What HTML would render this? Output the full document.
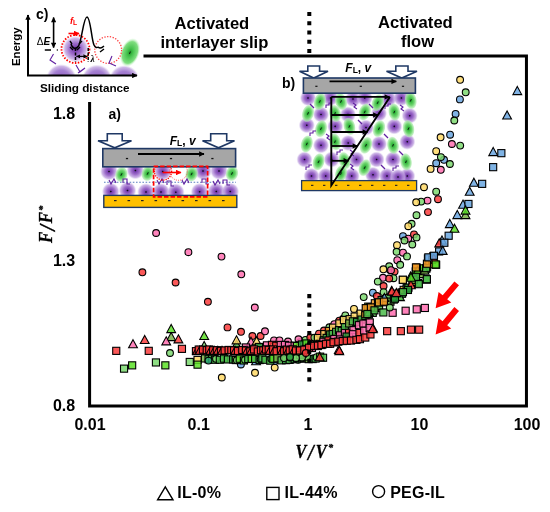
<!DOCTYPE html>
<html><head><meta charset="utf-8"><title>Figure</title>
<style>html,body{margin:0;padding:0;background:#fff}svg{display:block}svg{font-family:"Liberation Sans",sans-serif}.se{font-family:"Liberation Serif",serif}</style></head>
<body><svg width="550" height="512" viewBox="0 0 550 512">
<defs>
<radialGradient id="pu"><stop offset="0" stop-color="#4a1c84"/><stop offset="0.14" stop-color="#7a40b0"/><stop offset="0.45" stop-color="#9a68c8" stop-opacity="0.96"/><stop offset="0.78" stop-color="#bc9cde" stop-opacity="0.75"/><stop offset="1" stop-color="#dccdf0" stop-opacity="0"/></radialGradient>
<radialGradient id="pb"><stop offset="0" stop-color="#8a56bc"/><stop offset="0.6" stop-color="#a27cd0" stop-opacity="0.97"/><stop offset="0.85" stop-color="#c0a4e0" stop-opacity="0.8"/><stop offset="1" stop-color="#d8c8ec" stop-opacity="0"/></radialGradient>
<radialGradient id="gr"><stop offset="0" stop-color="#109a20"/><stop offset="0.22" stop-color="#3cbc44"/><stop offset="0.55" stop-color="#6cd46c" stop-opacity="0.95"/><stop offset="0.85" stop-color="#a8eaa8" stop-opacity="0.7"/><stop offset="1" stop-color="#d0f8d0" stop-opacity="0"/></radialGradient>
<radialGradient id="gr2"><stop offset="0" stop-color="#1c9c26"/><stop offset="0.3" stop-color="#46c24e"/><stop offset="0.75" stop-color="#78dc78" stop-opacity="0.95"/><stop offset="1" stop-color="#d0f8d0" stop-opacity="0"/></radialGradient>
<marker id="ah" viewBox="0 0 10 10" refX="9" refY="5" markerWidth="6" markerHeight="5.4" markerUnits="userSpaceOnUse" orient="auto-start-reverse"><path d="M0 0L10 5L0 10Z"/></marker>
<marker id="ahr" viewBox="0 0 10 10" refX="9" refY="5" markerWidth="6" markerHeight="5.6" markerUnits="userSpaceOnUse" orient="auto"><path d="M0 0L10 5L0 10Z" fill="#f00"/></marker>
<marker id="ah2" viewBox="0 0 10 10" refX="9" refY="5" markerWidth="4.4" markerHeight="4.4" markerUnits="userSpaceOnUse" orient="auto-start-reverse"><path d="M0 0L10 5L0 10Z"/></marker>
</defs>
<rect width="550" height="512" fill="#fff"/>
<g id="insetb"><path d="M307.8 66H319.6V71.2H328L313.75 78L299.5 71.2H307.8Z" fill="#fff" stroke="#1f3864" stroke-width="1.6" stroke-linejoin="miter"/><path d="M395.8 66H408V71.2H417L401.75 78L386.5 71.2H395.8Z" fill="#fff" stroke="#1f3864" stroke-width="1.6" stroke-linejoin="miter"/><circle cx="308" cy="98" r="8.2" fill="url(#pu)"/><circle cx="308" cy="98" r="0.8" fill="#111"/><circle cx="330.5" cy="98" r="8.2" fill="url(#pu)"/><circle cx="330.5" cy="98" r="0.8" fill="#111"/><circle cx="353" cy="99" r="8.2" fill="url(#pu)"/><circle cx="353" cy="99" r="0.8" fill="#111"/><circle cx="364.7" cy="98" r="8.2" fill="url(#pu)"/><circle cx="364.7" cy="98" r="0.8" fill="#111"/><circle cx="388.4" cy="99" r="8.2" fill="url(#pu)"/><circle cx="388.4" cy="99" r="0.8" fill="#111"/><circle cx="401.4" cy="98" r="8.2" fill="url(#pu)"/><circle cx="401.4" cy="98" r="0.8" fill="#111"/><circle cx="321" cy="114.5" r="8.2" fill="url(#pu)"/><circle cx="321" cy="114.5" r="0.8" fill="#111"/><circle cx="348" cy="114.5" r="8.2" fill="url(#pu)"/><circle cx="348" cy="114.5" r="0.8" fill="#111"/><circle cx="379" cy="113.4" r="8.2" fill="url(#pu)"/><circle cx="379" cy="113.4" r="0.8" fill="#111"/><circle cx="409.7" cy="115.7" r="8.2" fill="url(#pu)"/><circle cx="409.7" cy="115.7" r="0.8" fill="#111"/><circle cx="306.8" cy="125.2" r="8.2" fill="url(#pu)"/><circle cx="306.8" cy="125.2" r="0.8" fill="#111"/><circle cx="335.2" cy="126.4" r="8.2" fill="url(#pu)"/><circle cx="335.2" cy="126.4" r="0.8" fill="#111"/><circle cx="366" cy="127.6" r="8.2" fill="url(#pu)"/><circle cx="366" cy="127.6" r="0.8" fill="#111"/><circle cx="394.3" cy="126.4" r="8.2" fill="url(#pu)"/><circle cx="394.3" cy="126.4" r="0.8" fill="#111"/><circle cx="321" cy="145.3" r="8.2" fill="url(#pu)"/><circle cx="321" cy="145.3" r="0.8" fill="#111"/><circle cx="348.2" cy="143" r="8.2" fill="url(#pu)"/><circle cx="348.2" cy="143" r="0.8" fill="#111"/><circle cx="379" cy="144" r="8.2" fill="url(#pu)"/><circle cx="379" cy="144" r="0.8" fill="#111"/><circle cx="407.3" cy="141.7" r="8.2" fill="url(#pu)"/><circle cx="407.3" cy="141.7" r="0.8" fill="#111"/><circle cx="304.5" cy="159.5" r="8.2" fill="url(#pu)"/><circle cx="304.5" cy="159.5" r="0.8" fill="#111"/><circle cx="331.6" cy="159.5" r="8.2" fill="url(#pu)"/><circle cx="331.6" cy="159.5" r="0.8" fill="#111"/><circle cx="356.5" cy="159.5" r="8.2" fill="url(#pu)"/><circle cx="356.5" cy="159.5" r="0.8" fill="#111"/><circle cx="376.6" cy="159.5" r="8.2" fill="url(#pu)"/><circle cx="376.6" cy="159.5" r="0.8" fill="#111"/><circle cx="393" cy="159.5" r="8.2" fill="url(#pu)"/><circle cx="393" cy="159.5" r="0.8" fill="#111"/><circle cx="311.5" cy="176" r="8.2" fill="url(#pu)"/><circle cx="311.5" cy="176" r="0.8" fill="#111"/><circle cx="325.7" cy="176" r="8.2" fill="url(#pu)"/><circle cx="325.7" cy="176" r="0.8" fill="#111"/><circle cx="351.7" cy="176" r="8.2" fill="url(#pu)"/><circle cx="351.7" cy="176" r="0.8" fill="#111"/><circle cx="373" cy="174.8" r="8.2" fill="url(#pu)"/><circle cx="373" cy="174.8" r="0.8" fill="#111"/><circle cx="387" cy="176" r="8.2" fill="url(#pu)"/><circle cx="387" cy="176" r="0.8" fill="#111"/><circle cx="407.3" cy="176" r="8.2" fill="url(#pu)"/><circle cx="407.3" cy="176" r="0.8" fill="#111"/><circle cx="398" cy="177" r="8.2" fill="url(#pu)"/><circle cx="398" cy="177" r="0.8" fill="#111"/><ellipse cx="319.8" cy="101.5" rx="6.2" ry="9.2" fill="url(#gr)" transform="rotate(15 319.8 101.5)"/><path d="M319.2 102.7L320.40000000000003 100.3" stroke="#111" stroke-width="0.9"/><ellipse cx="341" cy="101.5" rx="6.2" ry="9.2" fill="url(#gr)" transform="rotate(-15 341 101.5)"/><path d="M340.4 102.7L341.6 100.3" stroke="#111" stroke-width="0.9"/><ellipse cx="377.7" cy="102.7" rx="6.2" ry="9.2" fill="url(#gr)" transform="rotate(20 377.7 102.7)"/><path d="M377.09999999999997 103.9L378.3 101.5" stroke="#111" stroke-width="0.9"/><ellipse cx="410.8" cy="100.4" rx="6.2" ry="9.2" fill="url(#gr)" transform="rotate(-10 410.8 100.4)"/><path d="M410.2 101.60000000000001L411.40000000000003 99.2" stroke="#111" stroke-width="0.9"/><ellipse cx="308" cy="113.4" rx="6.2" ry="9.2" fill="url(#gr)" transform="rotate(15 308 113.4)"/><path d="M307.4 114.60000000000001L308.6 112.2" stroke="#111" stroke-width="0.9"/><ellipse cx="335" cy="113.4" rx="6.2" ry="9.2" fill="url(#gr)" transform="rotate(-15 335 113.4)"/><path d="M334.4 114.60000000000001L335.6 112.2" stroke="#111" stroke-width="0.9"/><ellipse cx="364.7" cy="112" rx="6.2" ry="9.2" fill="url(#gr)" transform="rotate(20 364.7 112)"/><path d="M364.09999999999997 113.2L365.3 110.8" stroke="#111" stroke-width="0.9"/><ellipse cx="394.3" cy="112" rx="6.2" ry="9.2" fill="url(#gr)" transform="rotate(-10 394.3 112)"/><path d="M393.7 113.2L394.90000000000003 110.8" stroke="#111" stroke-width="0.9"/><ellipse cx="321" cy="128.7" rx="6.2" ry="9.2" fill="url(#gr)" transform="rotate(15 321 128.7)"/><path d="M320.4 129.89999999999998L321.6 127.49999999999999" stroke="#111" stroke-width="0.9"/><ellipse cx="349.4" cy="126.4" rx="6.2" ry="9.2" fill="url(#gr)" transform="rotate(-15 349.4 126.4)"/><path d="M348.79999999999995 127.60000000000001L350.0 125.2" stroke="#111" stroke-width="0.9"/><ellipse cx="379" cy="128.7" rx="6.2" ry="9.2" fill="url(#gr)" transform="rotate(20 379 128.7)"/><path d="M378.4 129.89999999999998L379.6 127.49999999999999" stroke="#111" stroke-width="0.9"/><ellipse cx="408.5" cy="128.7" rx="6.2" ry="9.2" fill="url(#gr)" transform="rotate(-10 408.5 128.7)"/><path d="M407.9 129.89999999999998L409.1 127.49999999999999" stroke="#111" stroke-width="0.9"/><ellipse cx="306.8" cy="144" rx="6.2" ry="9.2" fill="url(#gr)" transform="rotate(15 306.8 144)"/><path d="M306.2 145.2L307.40000000000003 142.8" stroke="#111" stroke-width="0.9"/><ellipse cx="335" cy="141.7" rx="6.2" ry="9.2" fill="url(#gr)" transform="rotate(-15 335 141.7)"/><path d="M334.4 142.89999999999998L335.6 140.5" stroke="#111" stroke-width="0.9"/><ellipse cx="366" cy="145.3" rx="6.2" ry="9.2" fill="url(#gr)" transform="rotate(20 366 145.3)"/><path d="M365.4 146.5L366.6 144.10000000000002" stroke="#111" stroke-width="0.9"/><ellipse cx="393" cy="145.3" rx="6.2" ry="9.2" fill="url(#gr)" transform="rotate(-10 393 145.3)"/><path d="M392.4 146.5L393.6 144.10000000000002" stroke="#111" stroke-width="0.9"/><ellipse cx="318.6" cy="161.8" rx="6.2" ry="9.2" fill="url(#gr)" transform="rotate(15 318.6 161.8)"/><path d="M318.0 163.0L319.20000000000005 160.60000000000002" stroke="#111" stroke-width="0.9"/><ellipse cx="344.6" cy="160.6" rx="6.2" ry="9.2" fill="url(#gr)" transform="rotate(-15 344.6 160.6)"/><path d="M344.0 161.79999999999998L345.20000000000005 159.4" stroke="#111" stroke-width="0.9"/><ellipse cx="364.7" cy="167.7" rx="6.2" ry="9.2" fill="url(#gr)" transform="rotate(20 364.7 167.7)"/><path d="M364.09999999999997 168.89999999999998L365.3 166.5" stroke="#111" stroke-width="0.9"/><ellipse cx="406" cy="161.8" rx="6.2" ry="9.2" fill="url(#gr)" transform="rotate(-10 406 161.8)"/><path d="M405.4 163.0L406.6 160.60000000000002" stroke="#111" stroke-width="0.9"/><ellipse cx="341" cy="173.6" rx="6.2" ry="9.2" fill="url(#gr)" transform="rotate(15 341 173.6)"/><path d="M340.4 174.79999999999998L341.6 172.4" stroke="#111" stroke-width="0.9"/><path d="M310 104L314 108" stroke="#6020a0" stroke-width="1.2"/><path d="M326 108V105H329V103H332" fill="none" stroke="#6020a0" stroke-width="1.1"/><path d="M353 103L356 105L354 107L357 109" fill="none" stroke="#6020a0" stroke-width="1.1"/><path d="M369 104L373 108" stroke="#6020a0" stroke-width="1.2"/><path d="M385 109V106H388V104H391" fill="none" stroke="#6020a0" stroke-width="1.1"/><path d="M400 105L403 107L401 109L404 111" fill="none" stroke="#6020a0" stroke-width="1.1"/><path d="M358 120L362 124" stroke="#6020a0" stroke-width="1.2"/><path d="M310 136V133H313V131H316" fill="none" stroke="#6020a0" stroke-width="1.1"/><path d="M326 134L329 136L327 138L330 140" fill="none" stroke="#6020a0" stroke-width="1.1"/><path d="M384 134L388 138" stroke="#6020a0" stroke-width="1.2"/><path d="M337 155V152H340V150H343" fill="none" stroke="#6020a0" stroke-width="1.1"/><path d="M350 150L353 152L351 154L354 156" fill="none" stroke="#6020a0" stroke-width="1.1"/><path d="M399 151L403 155" stroke="#6020a0" stroke-width="1.2"/><path d="M306 170V167H309V165H312" fill="none" stroke="#6020a0" stroke-width="1.1"/><path d="M350 164L353 166L351 168L354 170" fill="none" stroke="#6020a0" stroke-width="1.1"/><path d="M381 165L385 169" stroke="#6020a0" stroke-width="1.2"/><path d="M393 171V168H396V166H399" fill="none" stroke="#6020a0" stroke-width="1.1"/><rect x="303.4" y="78" width="112" height="15.2" fill="#a6a6a6" stroke="#1f3864" stroke-width="1.6"/><rect x="315.29999999999995" y="85.7" width="2.2" height="1.2" fill="#111"/><rect x="359.7" y="85.7" width="2.2" height="1.2" fill="#111"/><rect x="401.9" y="85.7" width="2.2" height="1.2" fill="#111"/><path d="M329.5 81.4H396.3" stroke="#000" stroke-width="1.8" marker-end="url(#ah)"/><rect x="301.6" y="180.6" width="115" height="10" fill="#ffc000" stroke="#1f3864" stroke-width="1.3"/><rect x="311" y="184.8" width="2.4" height="1.1" fill="#222"/><rect x="323" y="184.8" width="2.4" height="1.1" fill="#222"/><rect x="335" y="184.8" width="2.4" height="1.1" fill="#222"/><rect x="347" y="184.8" width="2.4" height="1.1" fill="#222"/><rect x="359" y="184.8" width="2.4" height="1.1" fill="#222"/><rect x="371" y="184.8" width="2.4" height="1.1" fill="#222"/><rect x="383" y="184.8" width="2.4" height="1.1" fill="#222"/><rect x="395" y="184.8" width="2.4" height="1.1" fill="#222"/><rect x="407" y="184.8" width="2.4" height="1.1" fill="#222"/><path d="M331.3 96.9V185.4L389.9 96.9" fill="none" stroke="#000" stroke-width="1.9" stroke-linejoin="miter"/><path d="M331.3 96.9H389.5" stroke="#000" stroke-width="1.8" marker-end="url(#ah)"/><path d="M331.3 115H378" stroke="#000" stroke-width="1.8" marker-end="url(#ah)"/><path d="M331.3 132H367.5" stroke="#000" stroke-width="1.8" marker-end="url(#ah)"/><path d="M331.3 146H357.5" stroke="#000" stroke-width="1.8" marker-end="url(#ah)"/><path d="M331.3 160.8H348.5" stroke="#000" stroke-width="1.8" marker-end="url(#ah)"/><text x="282" y="88.2" font-size="14" font-weight="bold">b)</text><text x="345.3" y="71.6" font-size="12" font-weight="bold" font-style="italic">F<tspan font-size="8.5" font-style="normal" dy="1.6">L</tspan><tspan dy="-1.6" font-style="normal">, </tspan>v</text></g>
<g id="inseta"><path d="M107.3 133.8H122.2V140.8H131.5L114.75 147.8L98 140.8H107.3Z" fill="#fff" stroke="#1f3864" stroke-width="1.6" stroke-linejoin="miter"/><path d="M210.7 133.8H226.7V140.8H234.5L218.5 147.8L202.5 140.8H210.7Z" fill="#fff" stroke="#1f3864" stroke-width="1.6" stroke-linejoin="miter"/><circle cx="109" cy="171.5" r="9" fill="url(#pu)"/><circle cx="109" cy="171.5" r="0.8" fill="#111"/><circle cx="135.4" cy="170.5" r="9" fill="url(#pu)"/><circle cx="135.4" cy="170.5" r="0.8" fill="#111"/><circle cx="162.7" cy="171.5" r="9" fill="url(#pu)"/><circle cx="162.7" cy="171.5" r="0.8" fill="#111"/><circle cx="203" cy="171" r="9" fill="url(#pu)"/><circle cx="203" cy="171" r="0.8" fill="#111"/><circle cx="219" cy="171" r="9" fill="url(#pu)"/><circle cx="219" cy="171" r="0.8" fill="#111"/><circle cx="110.8" cy="191.5" r="9" fill="url(#pu)"/><circle cx="110.8" cy="191.5" r="0.8" fill="#111"/><circle cx="127.5" cy="190.5" r="9" fill="url(#pu)"/><circle cx="127.5" cy="190.5" r="0.8" fill="#111"/><circle cx="146" cy="192" r="9" fill="url(#pu)"/><circle cx="146" cy="192" r="0.8" fill="#111"/><circle cx="161" cy="192" r="9" fill="url(#pu)"/><circle cx="161" cy="192" r="0.8" fill="#111"/><circle cx="175.8" cy="192.3" r="9" fill="url(#pu)"/><circle cx="175.8" cy="192.3" r="0.8" fill="#111"/><circle cx="199.6" cy="191.8" r="9" fill="url(#pu)"/><circle cx="199.6" cy="191.8" r="0.8" fill="#111"/><circle cx="216.3" cy="191.5" r="9" fill="url(#pu)"/><circle cx="216.3" cy="191.5" r="0.8" fill="#111"/><circle cx="230.3" cy="191.5" r="9" fill="url(#pu)"/><circle cx="230.3" cy="191.5" r="0.8" fill="#111"/><ellipse cx="121.4" cy="174.5" rx="6.5" ry="8" fill="url(#gr)" transform="rotate(15 121.4 174.5)"/><path d="M120.80000000000001 175.7L122.0 173.3" stroke="#111" stroke-width="0.9"/><ellipse cx="147.7" cy="173.5" rx="6.5" ry="8" fill="url(#gr)" transform="rotate(15 147.7 173.5)"/><path d="M147.1 174.7L148.29999999999998 172.3" stroke="#111" stroke-width="0.9"/><ellipse cx="191.6" cy="174" rx="6.5" ry="8" fill="url(#gr)" transform="rotate(15 191.6 174)"/><path d="M191.0 175.2L192.2 172.8" stroke="#111" stroke-width="0.9"/><ellipse cx="232" cy="173.5" rx="6.5" ry="8" fill="url(#gr)" transform="rotate(15 232 173.5)"/><path d="M231.4 174.7L232.6 172.3" stroke="#111" stroke-width="0.9"/><path d="M104 182.2H236" stroke="#5b7fc0" stroke-width="1.1" stroke-dasharray="1.6 1.6"/><path d="M109 180L111 184L114 179L116 183" fill="none" stroke="#6020a0" stroke-width="1.1"/><path d="M123 183V179H127V184H130" fill="none" stroke="#6020a0" stroke-width="1.1"/><path d="M157 180L159 184L162 179L164 183" fill="none" stroke="#6020a0" stroke-width="1.1"/><path d="M167 185V181H171V186H174" fill="none" stroke="#6020a0" stroke-width="1.1"/><path d="M182 180L184 184L187 179L189 183" fill="none" stroke="#6020a0" stroke-width="1.1"/><path d="M202 183V179H206V184H209" fill="none" stroke="#6020a0" stroke-width="1.1"/><path d="M213 181L215 185L218 180L220 184" fill="none" stroke="#6020a0" stroke-width="1.1"/><path d="M223 184V180H227V185H230" fill="none" stroke="#6020a0" stroke-width="1.1"/><circle cx="163" cy="171.5" r="8.6" fill="none" stroke="#f00" stroke-width="1.3" stroke-dasharray="1.2 1.2"/><circle cx="178.5" cy="171.5" r="8.8" fill="none" stroke="#f22" stroke-width="0.8" stroke-dasharray="1 1.2"/><rect x="102.8" y="148.6" width="132.8" height="18.2" fill="#a6a6a6" stroke="#1f3864" stroke-width="1.6"/><rect x="125.9" y="157.9" width="2.2" height="1.3" fill="#111"/><rect x="169.9" y="157.9" width="2.2" height="1.3" fill="#111"/><rect x="211.3" y="157.9" width="2.2" height="1.3" fill="#111"/><path d="M138 154H204" stroke="#000" stroke-width="1.8" marker-end="url(#ah)"/><rect x="103.8" y="195.4" width="133" height="12" fill="#ffc000" stroke="#1f3864" stroke-width="1.4"/><rect x="114" y="200" width="2.6" height="1.2" fill="#222"/><rect x="127.5" y="200" width="2.6" height="1.2" fill="#222"/><rect x="141.0" y="200" width="2.6" height="1.2" fill="#222"/><rect x="154.5" y="200" width="2.6" height="1.2" fill="#222"/><rect x="168.0" y="200" width="2.6" height="1.2" fill="#222"/><rect x="181.5" y="200" width="2.6" height="1.2" fill="#222"/><rect x="195.0" y="200" width="2.6" height="1.2" fill="#222"/><rect x="208.5" y="200" width="2.6" height="1.2" fill="#222"/><rect x="222.0" y="200" width="2.6" height="1.2" fill="#222"/><path d="M162.6 172.5H181" stroke="#f00" stroke-width="1.6" marker-end="url(#ahr)"/><rect x="153.6" y="166.4" width="54" height="30.4" fill="none" stroke="#f00" stroke-width="1.7" stroke-dasharray="4.5 2"/><text x="108.4" y="119" font-size="14" font-weight="bold">a)</text><text x="169.7" y="144.6" font-size="12" font-weight="bold" font-style="italic">F<tspan font-size="8.5" font-style="normal" dy="1.6">L</tspan><tspan dy="-1.6" font-style="normal">, </tspan>v</text></g>
<g id="insetc"><clipPath id="cc"><rect x="28" y="40" width="112" height="35.2"/></clipPath><g clip-path="url(#cc)"><circle cx="61.3" cy="79.5" r="15.5" fill="url(#pb)"/><circle cx="97" cy="80" r="15.5" fill="url(#pb)"/><circle cx="124.2" cy="80.6" r="15.5" fill="url(#pb)"/></g><ellipse cx="130" cy="52.5" rx="9.5" ry="15" fill="url(#gr2)" transform="rotate(20 130 52.5)"/><path d="M129.4 54L130.4 51.6" stroke="#111" stroke-width="0.9"/><circle cx="75.5" cy="49" r="13.5" fill="url(#pu)"/><circle cx="75.5" cy="49" r="14" fill="none" stroke="#f00" stroke-width="1.8" stroke-dasharray="1.5 1.5"/><circle cx="108.2" cy="50" r="13.4" fill="none" stroke="#ff4040" stroke-width="1.3" stroke-dasharray="1.3 1.5"/><path d="M28 75.5V15" stroke="#000" stroke-width="2" marker-end="url(#ah)"/><path d="M27 75.5H137" stroke="#000" stroke-width="2" marker-end="url(#ah)"/><path d="M53.6 17.5V47.6" stroke="#000" stroke-width="1.6" marker-start="url(#ah)" marker-end="url(#ah)"/><path d="M44.8 50.1H51M56.8 50.1H57.8" stroke="#000" stroke-width="1.5"/><path d="M71 44C72.5 49 76 49.5 78.5 46C82 40 83.5 17 87 17C90.5 17 91.5 40 94 45C95.5 48 97 48 98.5 47" fill="none" stroke="#000" stroke-width="1.5"/><path d="M70 41L72 44M79 44L82 41M70 47L73 50M77 50L80 47M98 47C100 49 102 48 104 46M100 52L104 49" fill="none" stroke="#000" stroke-width="1.4"/><path d="M75.5 48V62M88.2 48V62" stroke="#000" stroke-width="1.5" stroke-dasharray="3 1.5"/><path d="M76.5 56.4H87.4" stroke="#000" stroke-width="1.2" marker-start="url(#ah2)" marker-end="url(#ah2)"/><path d="M68.5 33.5H79" stroke="#f00" stroke-width="1.6" marker-end="url(#ahr)"/><path d="M53.5 54L50 60L56 64" fill="none" stroke="#6020a0" stroke-width="1.1"/><path d="M76 65L80 72L85 68L78 73" fill="none" stroke="#6020a0" stroke-width="1.1"/><path d="M112 56L109 63L116 66" fill="none" stroke="#6020a0" stroke-width="1.1"/><text x="36" y="19" font-size="14" font-weight="bold">c)</text><text x="36.8" y="45.2" font-size="10">Δ<tspan font-weight="bold" font-style="italic">E</tspan></text><text x="70" y="23.5" font-size="9" font-weight="bold" font-style="italic" fill="#f00">f<tspan font-size="6.8" font-style="normal" dy="1.2">L</tspan></text><text x="90.5" y="61.5" font-size="9.5" font-weight="bold" font-style="italic" class="se">λ</text><text transform="translate(19.5 46.8) rotate(-90)" text-anchor="middle" font-size="11.4" font-weight="bold">Energy</text><text x="40" y="91.8" font-size="11.7" font-weight="bold">Sliding distance</text></g>
<g stroke="#000" stroke-width="1.1" stroke-linejoin="miter"><circle cx="300.0" cy="342.3" r="3.4" fill="#6aa6e0" fill-opacity="0.85"/><circle cx="305.5" cy="339.9" r="3.4" fill="#7cd870" fill-opacity="0.85"/><circle cx="310.3" cy="337.4" r="3.4" fill="#fa3c3c" fill-opacity="0.85"/><circle cx="314.4" cy="337.6" r="3.4" fill="#7cd870" fill-opacity="0.85"/><circle cx="319.0" cy="333.7" r="3.4" fill="#fa3c3c" fill-opacity="0.85"/><circle cx="324.0" cy="330.5" r="3.4" fill="#fa3c3c" fill-opacity="0.85"/><circle cx="329.4" cy="327.3" r="3.4" fill="#7cd870" fill-opacity="0.85"/><circle cx="334.3" cy="324.1" r="3.4" fill="#ff6eb0" fill-opacity="0.85"/><circle cx="339.3" cy="320.6" r="3.4" fill="#fa3c3c" fill-opacity="0.85"/><circle cx="343.3" cy="318.8" r="3.4" fill="#6aa6e0" fill-opacity="0.85"/><circle cx="300.0" cy="350.2" r="3.4" fill="#fa3c3c" fill-opacity="0.85"/><circle cx="306.7" cy="350.9" r="3.4" fill="#2a9a3a" fill-opacity="0.85"/><circle cx="313.0" cy="347.5" r="3.4" fill="#fa3c3c" fill-opacity="0.85"/><circle cx="320.5" cy="341.1" r="3.4" fill="#fa3c3c" fill-opacity="0.85"/><circle cx="329.2" cy="335.6" r="3.4" fill="#fa3c3c" fill-opacity="0.85"/><circle cx="336.5" cy="332.2" r="3.4" fill="#ff6eb0" fill-opacity="0.85"/><circle cx="345.2" cy="329.8" r="3.4" fill="#7cd870" fill-opacity="0.85"/><circle cx="354.0" cy="320.3" r="3.4" fill="#ff6eb0" fill-opacity="0.85"/><circle cx="360.1" cy="317.3" r="3.4" fill="#2a9a3a" fill-opacity="0.85"/><rect x="112.7" y="347.3" width="7.1" height="7.1" fill="#fa3c3c" fill-opacity="0.86"/><path d="M133.0 339.7L137.4 347.8H128.6Z" fill="#ff6eb0" fill-opacity="0.85"/><path d="M144.7 335.4L149.1 343.5H140.3Z" fill="#fa3c3c" fill-opacity="0.85"/><rect x="145.2" y="347.3" width="7.1" height="7.1" fill="#fa3c3c" fill-opacity="0.86"/><rect x="120.5" y="365.1" width="7.1" height="7.1" fill="#7cd870" fill-opacity="0.86"/><rect x="128.6" y="361.8" width="7.1" height="7.1" fill="#5ce028" fill-opacity="0.86"/><rect x="152.4" y="358.9" width="7.1" height="7.1" fill="#7cd870" fill-opacity="0.86"/><rect x="161.8" y="361.8" width="7.1" height="7.1" fill="#5ce028" fill-opacity="0.86"/><path d="M171.2 332.5L175.6 340.6H166.8Z" fill="#78b048" fill-opacity="0.85"/><path d="M171.2 324.5L175.6 332.6H166.8Z" fill="#5ce028" fill-opacity="0.85"/><path d="M166.2 336.8L170.6 344.9H161.8Z" fill="#ff6eb0" fill-opacity="0.85"/><path d="M178.4 334.8L182.8 342.9H174.0Z" fill="#fa3c3c" fill-opacity="0.85"/><rect x="178.4" y="345.3" width="7.1" height="7.1" fill="#fa3c3c" fill-opacity="0.86"/><circle cx="170.0" cy="353.0" r="3.4" fill="#7cd870" fill-opacity="0.85"/><rect x="186.2" y="358.4" width="7.1" height="7.1" fill="#7cd870" fill-opacity="0.86"/><rect x="194.0" y="356.4" width="7.1" height="7.1" fill="#ffd966" fill-opacity="0.86"/><rect x="194.0" y="361.1" width="7.1" height="7.1" fill="#5ce028" fill-opacity="0.86"/><path d="M204.2 341.5L208.6 349.6H199.8Z" fill="#7cd870" fill-opacity="0.85"/><path d="M204.2 331.4L208.6 339.5H199.8Z" fill="#5ce028" fill-opacity="0.85"/><circle cx="156.1" cy="233.0" r="3.4" fill="#ff6eb0" fill-opacity="0.85"/><circle cx="188.4" cy="252.2" r="3.4" fill="#ff6eb0" fill-opacity="0.85"/><circle cx="221.5" cy="256.6" r="3.4" fill="#ff6eb0" fill-opacity="0.85"/><circle cx="142.4" cy="272.3" r="3.4" fill="#fa3c3c" fill-opacity="0.85"/><circle cx="175.6" cy="282.5" r="3.4" fill="#fa3c3c" fill-opacity="0.85"/><circle cx="241.3" cy="274.3" r="3.4" fill="#ff6eb0" fill-opacity="0.85"/><circle cx="207.9" cy="301.8" r="3.4" fill="#fa3c3c" fill-opacity="0.85"/><circle cx="254.8" cy="307.5" r="3.4" fill="#ff6eb0" fill-opacity="0.85"/><circle cx="227.5" cy="327.4" r="3.4" fill="#fa3c3c" fill-opacity="0.85"/><circle cx="241.0" cy="331.8" r="3.4" fill="#fa3c3c" fill-opacity="0.85"/><circle cx="252.4" cy="336.0" r="3.4" fill="#fa3c3c" fill-opacity="0.85"/><circle cx="260.6" cy="336.0" r="3.4" fill="#fa3c3c" fill-opacity="0.85"/><circle cx="265.0" cy="331.3" r="3.4" fill="#ff6eb0" fill-opacity="0.85"/><path d="M236.5 340.1L240.9 348.2H232.1Z" fill="#4cbc4c" fill-opacity="0.85"/><path d="M236.5 335.8L240.9 343.9H232.1Z" fill="#ffd966" fill-opacity="0.85"/><path d="M251.0 337.2L255.4 345.3H246.6Z" fill="#ff6eb0" fill-opacity="0.85"/><path d="M256.6 336.7L261.0 344.8H252.2Z" fill="#ffd966" fill-opacity="0.85"/><circle cx="240.9" cy="364.5" r="3.4" fill="#6aa6e0" fill-opacity="0.85"/><circle cx="221.8" cy="377.5" r="3.4" fill="#ffd966" fill-opacity="0.85"/><circle cx="255.0" cy="372.8" r="3.4" fill="#ffd966" fill-opacity="0.85"/><circle cx="274.7" cy="367.6" r="3.4" fill="#ffd966" fill-opacity="0.85"/><circle cx="274.7" cy="361.0" r="3.4" fill="#6aa6e0" fill-opacity="0.85"/><path d="M256.0 356.7L260.4 364.8H251.6Z" fill="#6aa6e0" fill-opacity="0.85"/><circle cx="274.0" cy="340.4" r="3.4" fill="#ff6eb0" fill-opacity="0.85"/><circle cx="279.5" cy="340.4" r="3.4" fill="#ff6eb0" fill-opacity="0.85"/><circle cx="288.0" cy="341.5" r="3.4" fill="#ff6eb0" fill-opacity="0.85"/><circle cx="298.5" cy="339.3" r="3.4" fill="#ff6eb0" fill-opacity="0.85"/><rect x="383.6" y="327.6" width="7.1" height="7.1" fill="#fa3c3c" fill-opacity="0.86"/><rect x="397.3" y="327.6" width="7.1" height="7.1" fill="#fa3c3c" fill-opacity="0.86"/><rect x="407.4" y="326.1" width="7.1" height="7.1" fill="#fa3c3c" fill-opacity="0.86"/><rect x="415.6" y="326.1" width="7.1" height="7.1" fill="#fa3c3c" fill-opacity="0.86"/><rect x="389.1" y="309.2" width="7.1" height="7.1" fill="#ff6eb0" fill-opacity="0.86"/><rect x="402.1" y="307.2" width="7.1" height="7.1" fill="#ff6eb0" fill-opacity="0.86"/><rect x="413.2" y="305.8" width="7.1" height="7.1" fill="#ff6eb0" fill-opacity="0.86"/><rect x="421.3" y="304.4" width="7.1" height="7.1" fill="#ff6eb0" fill-opacity="0.86"/><path d="M319.6 351.9L324.0 360.0H315.2Z" fill="#fa3c3c" fill-opacity="0.85"/><path d="M338.8 345.3L343.2 353.4H334.4Z" fill="#fa3c3c" fill-opacity="0.85"/><path d="M373.0 323.9L377.4 332.0H368.6Z" fill="#fa3c3c" fill-opacity="0.85"/><path d="M391.6 286.5L396.0 294.6H387.2Z" fill="#fa3c3c" fill-opacity="0.85"/><circle cx="460.1" cy="79.8" r="3.4" fill="#ffd966" fill-opacity="0.85"/><circle cx="465.7" cy="92.3" r="3.4" fill="#7cd870" fill-opacity="0.85"/><circle cx="459.9" cy="99.4" r="3.4" fill="#6aa6e0" fill-opacity="0.85"/><circle cx="455.6" cy="113.9" r="3.4" fill="#6aa6e0" fill-opacity="0.85"/><circle cx="454.3" cy="120.5" r="3.4" fill="#7cd870" fill-opacity="0.85"/><circle cx="450.1" cy="134.7" r="3.4" fill="#6aa6e0" fill-opacity="0.85"/><circle cx="440.6" cy="137.3" r="3.4" fill="#ffd966" fill-opacity="0.85"/><circle cx="451.9" cy="144.0" r="3.4" fill="#ff6eb0" fill-opacity="0.85"/><circle cx="460.2" cy="145.6" r="3.4" fill="#7cd870" fill-opacity="0.85"/><circle cx="436.2" cy="151.2" r="3.4" fill="#ffd966" fill-opacity="0.85"/><circle cx="444.0" cy="159.8" r="3.4" fill="#6aa6e0" fill-opacity="0.85"/><circle cx="440.9" cy="157.1" r="3.4" fill="#7cd870" fill-opacity="0.85"/><circle cx="436.2" cy="163.2" r="3.4" fill="#6aa6e0" fill-opacity="0.85"/><circle cx="449.9" cy="164.0" r="3.4" fill="#7cd870" fill-opacity="0.85"/><circle cx="430.6" cy="168.9" r="3.4" fill="#ffd966" fill-opacity="0.85"/><circle cx="440.8" cy="169.8" r="3.4" fill="#ff6eb0" fill-opacity="0.85"/><circle cx="424.0" cy="187.2" r="3.4" fill="#ffd966" fill-opacity="0.85"/><circle cx="436.2" cy="191.7" r="3.4" fill="#7cd870" fill-opacity="0.85"/><circle cx="438.0" cy="199.2" r="3.4" fill="#fa3c3c" fill-opacity="0.85"/><circle cx="427.5" cy="200.6" r="3.4" fill="#ff6eb0" fill-opacity="0.85"/><circle cx="421.2" cy="201.6" r="3.4" fill="#7cd870" fill-opacity="0.85"/><circle cx="416.2" cy="202.3" r="3.4" fill="#ffd966" fill-opacity="0.85"/><circle cx="428.0" cy="212.1" r="3.4" fill="#fa3c3c" fill-opacity="0.85"/><circle cx="416.5" cy="215.2" r="3.4" fill="#7cd870" fill-opacity="0.85"/><circle cx="411.6" cy="223.8" r="3.4" fill="#7cd870" fill-opacity="0.85"/><circle cx="408.3" cy="226.2" r="3.4" fill="#ffd966" fill-opacity="0.85"/><circle cx="414.0" cy="234.4" r="3.4" fill="#fa3c3c" fill-opacity="0.85"/><circle cx="416.5" cy="237.4" r="3.4" fill="#7cd870" fill-opacity="0.85"/><circle cx="403.0" cy="236.2" r="3.4" fill="#6aa6e0" fill-opacity="0.85"/><circle cx="408.3" cy="238.6" r="3.4" fill="#ff6eb0" fill-opacity="0.85"/><circle cx="404.5" cy="240.5" r="3.4" fill="#7cd870" fill-opacity="0.85"/><circle cx="412.3" cy="244.5" r="3.4" fill="#7cd870" fill-opacity="0.85"/><circle cx="397.0" cy="245.2" r="3.4" fill="#ffd966" fill-opacity="0.85"/><circle cx="396.6" cy="251.8" r="3.4" fill="#7cd870" fill-opacity="0.85"/><circle cx="403.0" cy="252.7" r="3.4" fill="#ff6eb0" fill-opacity="0.85"/><circle cx="407.0" cy="256.4" r="3.4" fill="#7cd870" fill-opacity="0.85"/><circle cx="397.3" cy="260.2" r="3.4" fill="#ff6eb0" fill-opacity="0.85"/><circle cx="400.2" cy="264.8" r="3.4" fill="#7cd870" fill-opacity="0.85"/><circle cx="390.0" cy="270.0" r="3.4" fill="#fa3c3c" fill-opacity="0.85"/><circle cx="394.6" cy="271.6" r="3.4" fill="#fa3c3c" fill-opacity="0.85"/><circle cx="393.5" cy="278.2" r="3.4" fill="#7cd870" fill-opacity="0.85"/><circle cx="389.2" cy="266.3" r="3.4" fill="#7cd870" fill-opacity="0.85"/><circle cx="383.4" cy="269.3" r="3.4" fill="#ffd966" fill-opacity="0.85"/><circle cx="391.0" cy="270.2" r="3.4" fill="#ff6eb0" fill-opacity="0.85"/><circle cx="383.0" cy="277.8" r="3.4" fill="#ff6eb0" fill-opacity="0.85"/><circle cx="389.2" cy="278.5" r="3.4" fill="#fa3c3c" fill-opacity="0.85"/><circle cx="377.8" cy="281.6" r="3.4" fill="#7cd870" fill-opacity="0.85"/><circle cx="383.6" cy="286.0" r="3.4" fill="#fa3c3c" fill-opacity="0.85"/><circle cx="383.6" cy="292.2" r="3.4" fill="#7cd870" fill-opacity="0.85"/><circle cx="372.9" cy="292.7" r="3.4" fill="#6aa6e0" fill-opacity="0.85"/><circle cx="376.9" cy="296.0" r="3.4" fill="#fa3c3c" fill-opacity="0.85"/><circle cx="363.7" cy="297.1" r="3.4" fill="#7cd870" fill-opacity="0.85"/><circle cx="354.0" cy="308.9" r="3.4" fill="#ffd966" fill-opacity="0.85"/><circle cx="345.3" cy="315.4" r="3.4" fill="#7cd870" fill-opacity="0.85"/><path d="M517.3 86.5L521.7 94.6H512.9Z" fill="#6aa6e0" fill-opacity="0.85"/><path d="M507.1 110.9L511.5 119.0H502.7Z" fill="#6aa6e0" fill-opacity="0.85"/><path d="M493.2 147.5L497.6 155.6H488.8Z" fill="#6aa6e0" fill-opacity="0.85"/><rect x="497.8" y="149.6" width="7.1" height="7.1" fill="#6aa6e0" fill-opacity="0.86"/><rect x="489.6" y="163.6" width="7.1" height="7.1" fill="#6aa6e0" fill-opacity="0.86"/><path d="M473.9 178.2L478.3 186.3H469.5Z" fill="#6aa6e0" fill-opacity="0.85"/><rect x="478.6" y="180.3" width="7.1" height="7.1" fill="#6aa6e0" fill-opacity="0.86"/><path d="M469.7 187.2L474.1 195.3H465.3Z" fill="#6aa6e0" fill-opacity="0.85"/><path d="M463.0 200.1L467.4 208.2H458.6Z" fill="#6aa6e0" fill-opacity="0.85"/><rect x="464.9" y="200.4" width="7.1" height="7.1" fill="#6aa6e0" fill-opacity="0.86"/><path d="M465.5 210.5L469.9 218.6H461.1Z" fill="#78b048" fill-opacity="0.85"/><path d="M465.5 206.0L469.9 214.1H461.1Z" fill="#5ce028" fill-opacity="0.85"/><path d="M457.3 210.5L461.7 218.6H452.9Z" fill="#6aa6e0" fill-opacity="0.85"/><path d="M449.8 219.5L454.2 227.6H445.4Z" fill="#6aa6e0" fill-opacity="0.85"/><path d="M454.5 224.2L458.9 232.3H450.1Z" fill="#5ce028" fill-opacity="0.85"/><rect x="445.1" y="232.2" width="7.1" height="7.1" fill="#6aa6e0" fill-opacity="0.86"/><path d="M442.0 236.0L446.4 244.1H437.6Z" fill="#6aa6e0" fill-opacity="0.85"/><path d="M439.2 238.8L443.6 246.9H434.8Z" fill="#fa3c3c" fill-opacity="0.85"/><rect x="440.8" y="239.2" width="7.1" height="7.1" fill="#6aa6e0" fill-opacity="0.86"/><rect x="435.6" y="247.9" width="7.1" height="7.1" fill="#6aa6e0" fill-opacity="0.86"/><path d="M442.7 246.3L447.1 254.4H438.3Z" fill="#6aa6e0" fill-opacity="0.85"/><rect x="429.8" y="252.6" width="7.1" height="7.1" fill="#6aa6e0" fill-opacity="0.86"/><rect x="424.4" y="254.9" width="7.1" height="7.1" fill="#6aa6e0" fill-opacity="0.86"/><rect x="432.6" y="261.2" width="7.1" height="7.1" fill="#5ce028" fill-opacity="0.86"/><rect x="413.4" y="264.3" width="7.1" height="7.1" fill="#f09a28" fill-opacity="0.86"/><rect x="422.8" y="265.1" width="7.1" height="7.1" fill="#4cbc4c" fill-opacity="0.86"/><rect x="412.2" y="272.4" width="7.1" height="7.1" fill="#4cbc4c" fill-opacity="0.86"/><rect x="414.4" y="279.4" width="7.1" height="7.1" fill="#4cbc4c" fill-opacity="0.86"/><rect x="423.2" y="276.1" width="7.1" height="7.1" fill="#4cbc4c" fill-opacity="0.86"/><rect x="399.4" y="276.4" width="7.1" height="7.1" fill="#ffd966" fill-opacity="0.86"/><path d="M410.6 272.0L415.0 280.1H406.2Z" fill="#5ce028" fill-opacity="0.85"/><rect x="403.4" y="284.8" width="7.1" height="7.1" fill="#6aa6e0" fill-opacity="0.86"/><rect x="398.1" y="288.9" width="7.1" height="7.1" fill="#4cbc4c" fill-opacity="0.86"/><rect x="412.9" y="264.1" width="7.1" height="7.1" fill="#f09a28" fill-opacity="0.86"/><rect x="263.4" y="341.8" width="7.1" height="7.1" fill="#ff6eb0" fill-opacity="0.86"/><rect x="268.4" y="341.3" width="7.1" height="7.1" fill="#fa3c3c" fill-opacity="0.86"/><rect x="272.7" y="342.2" width="7.1" height="7.1" fill="#fa3c3c" fill-opacity="0.86"/><rect x="277.2" y="341.4" width="7.1" height="7.1" fill="#ff6eb0" fill-opacity="0.86"/><rect x="281.4" y="341.4" width="7.1" height="7.1" fill="#ff6eb0" fill-opacity="0.86"/><rect x="285.5" y="342.2" width="7.1" height="7.1" fill="#ff6eb0" fill-opacity="0.86"/><rect x="291.1" y="342.2" width="7.1" height="7.1" fill="#ff6eb0" fill-opacity="0.86"/><rect x="296.6" y="341.9" width="7.1" height="7.1" fill="#ff6eb0" fill-opacity="0.86"/><rect x="293.4" y="342.4" width="7.1" height="7.1" fill="#5ce028" fill-opacity="0.86"/><rect x="298.4" y="340.9" width="7.1" height="7.1" fill="#2a9a3a" fill-opacity="0.86"/><rect x="302.9" y="339.9" width="7.1" height="7.1" fill="#5ce028" fill-opacity="0.86"/><rect x="255.4" y="343.4" width="7.1" height="7.1" fill="#2a9a3a" fill-opacity="0.86"/><rect x="242.4" y="343.9" width="7.1" height="7.1" fill="#ff6eb0" fill-opacity="0.86"/><rect x="192.4" y="347.6" width="7.1" height="7.1" fill="#fa3c3c" fill-opacity="0.86"/><path d="M197.0 346.3L201.4 354.4H192.6Z" fill="#fa3c3c" fill-opacity="0.85"/><rect x="195.2" y="346.0" width="7.1" height="7.1" fill="#fa3c3c" fill-opacity="0.86"/><path d="M199.7 346.3L204.1 354.4H195.3Z" fill="#fa3c3c" fill-opacity="0.85"/><rect x="199.4" y="346.1" width="7.1" height="7.1" fill="#fa3c3c" fill-opacity="0.86"/><rect x="203.2" y="346.6" width="7.1" height="7.1" fill="#fa3c3c" fill-opacity="0.86"/><rect x="205.7" y="345.9" width="7.1" height="7.1" fill="#fa3c3c" fill-opacity="0.86"/><path d="M210.3 346.3L214.7 354.4H205.9Z" fill="#fa3c3c" fill-opacity="0.85"/><rect x="209.6" y="346.7" width="7.1" height="7.1" fill="#fa3c3c" fill-opacity="0.86"/><path d="M214.2 346.3L218.6 354.4H209.8Z" fill="#fa3c3c" fill-opacity="0.85"/><rect x="213.3" y="346.7" width="7.1" height="7.1" fill="#fa3c3c" fill-opacity="0.86"/><path d="M217.8 346.3L222.2 354.4H213.4Z" fill="#fa3c3c" fill-opacity="0.85"/><rect x="217.4" y="347.3" width="7.1" height="7.1" fill="#fa3c3c" fill-opacity="0.86"/><path d="M222.0 346.3L226.4 354.4H217.6Z" fill="#fa3c3c" fill-opacity="0.85"/><rect x="221.1" y="346.9" width="7.1" height="7.1" fill="#fa3c3c" fill-opacity="0.86"/><rect x="225.1" y="346.4" width="7.1" height="7.1" fill="#fa3c3c" fill-opacity="0.86"/><rect x="227.8" y="346.7" width="7.1" height="7.1" fill="#fa3c3c" fill-opacity="0.86"/><rect x="230.5" y="346.8" width="7.1" height="7.1" fill="#fa3c3c" fill-opacity="0.86"/><path d="M235.1 346.3L239.5 354.4H230.7Z" fill="#fa3c3c" fill-opacity="0.85"/><rect x="234.4" y="347.4" width="7.1" height="7.1" fill="#fa3c3c" fill-opacity="0.86"/><rect x="238.7" y="346.4" width="7.1" height="7.1" fill="#fa3c3c" fill-opacity="0.86"/><rect x="242.4" y="347.0" width="7.1" height="7.1" fill="#fa3c3c" fill-opacity="0.86"/><path d="M247.0 346.3L251.4 354.4H242.6Z" fill="#fa3c3c" fill-opacity="0.85"/><rect x="246.7" y="347.8" width="7.1" height="7.1" fill="#fa3c3c" fill-opacity="0.86"/><path d="M251.2 346.3L255.6 354.4H246.8Z" fill="#fa3c3c" fill-opacity="0.85"/><rect x="250.5" y="345.9" width="7.1" height="7.1" fill="#fa3c3c" fill-opacity="0.86"/><rect x="254.3" y="347.9" width="7.1" height="7.1" fill="#fa3c3c" fill-opacity="0.86"/><rect x="257.4" y="346.6" width="7.1" height="7.1" fill="#fa3c3c" fill-opacity="0.86"/><rect x="259.8" y="346.8" width="7.1" height="7.1" fill="#fa3c3c" fill-opacity="0.86"/><path d="M264.4 346.3L268.8 354.4H260.0Z" fill="#fa3c3c" fill-opacity="0.85"/><rect x="262.5" y="345.9" width="7.1" height="7.1" fill="#fa3c3c" fill-opacity="0.86"/><rect x="265.2" y="346.3" width="7.1" height="7.1" fill="#fa3c3c" fill-opacity="0.86"/><path d="M269.7 346.3L274.1 354.4H265.3Z" fill="#fa3c3c" fill-opacity="0.85"/><rect x="269.5" y="345.9" width="7.1" height="7.1" fill="#fa3c3c" fill-opacity="0.86"/><path d="M274.0 346.3L278.4 354.4H269.6Z" fill="#fa3c3c" fill-opacity="0.85"/><rect x="273.1" y="347.7" width="7.1" height="7.1" fill="#fa3c3c" fill-opacity="0.86"/><rect x="277.4" y="346.4" width="7.1" height="7.1" fill="#fa3c3c" fill-opacity="0.86"/><path d="M281.9 346.3L286.3 354.4H277.5Z" fill="#fa3c3c" fill-opacity="0.85"/><rect x="280.6" y="347.7" width="7.1" height="7.1" fill="#fa3c3c" fill-opacity="0.86"/><rect x="283.3" y="346.1" width="7.1" height="7.1" fill="#fa3c3c" fill-opacity="0.86"/><path d="M287.9 346.3L292.3 354.4H283.5Z" fill="#fa3c3c" fill-opacity="0.85"/><rect x="286.2" y="346.8" width="7.1" height="7.1" fill="#fa3c3c" fill-opacity="0.86"/><rect x="289.2" y="345.8" width="7.1" height="7.1" fill="#fa3c3c" fill-opacity="0.86"/><path d="M293.7 346.3L298.1 354.4H289.3Z" fill="#fa3c3c" fill-opacity="0.85"/><rect x="292.4" y="347.0" width="7.1" height="7.1" fill="#fa3c3c" fill-opacity="0.86"/><rect x="296.3" y="346.9" width="7.1" height="7.1" fill="#fa3c3c" fill-opacity="0.86"/><rect x="201.4" y="354.9" width="7.1" height="7.1" fill="#78b048" fill-opacity="0.86"/><rect x="205.0" y="355.7" width="7.1" height="7.1" fill="#4cbc4c" fill-opacity="0.86"/><rect x="208.6" y="355.2" width="7.1" height="7.1" fill="#4cbc4c" fill-opacity="0.86"/><rect x="211.4" y="356.2" width="7.1" height="7.1" fill="#4cbc4c" fill-opacity="0.86"/><circle cx="216.0" cy="358.8" r="3.4" fill="#7cd870" fill-opacity="0.85"/><rect x="216.3" y="356.2" width="7.1" height="7.1" fill="#4cbc4c" fill-opacity="0.86"/><rect x="220.4" y="355.1" width="7.1" height="7.1" fill="#4cbc4c" fill-opacity="0.86"/><rect x="224.4" y="355.9" width="7.1" height="7.1" fill="#4cbc4c" fill-opacity="0.86"/><rect x="229.4" y="355.9" width="7.1" height="7.1" fill="#2a9a3a" fill-opacity="0.86"/><rect x="232.3" y="356.5" width="7.1" height="7.1" fill="#78b048" fill-opacity="0.86"/><circle cx="236.9" cy="360.2" r="3.4" fill="#7cd870" fill-opacity="0.85"/><rect x="236.2" y="355.2" width="7.1" height="7.1" fill="#5ce028" fill-opacity="0.86"/><rect x="240.4" y="356.9" width="7.1" height="7.1" fill="#5ce028" fill-opacity="0.86"/><circle cx="245.0" cy="359.8" r="3.4" fill="#7cd870" fill-opacity="0.85"/><rect x="244.7" y="355.4" width="7.1" height="7.1" fill="#4cbc4c" fill-opacity="0.86"/><rect x="248.2" y="355.3" width="7.1" height="7.1" fill="#5ce028" fill-opacity="0.86"/><rect x="251.6" y="355.3" width="7.1" height="7.1" fill="#4cbc4c" fill-opacity="0.86"/><rect x="256.1" y="356.5" width="7.1" height="7.1" fill="#4cbc4c" fill-opacity="0.86"/><circle cx="260.7" cy="359.5" r="3.4" fill="#30a878" fill-opacity="0.85"/><rect x="258.8" y="354.8" width="7.1" height="7.1" fill="#4cbc4c" fill-opacity="0.86"/><rect x="261.9" y="356.2" width="7.1" height="7.1" fill="#4cbc4c" fill-opacity="0.86"/><rect x="266.7" y="357.1" width="7.1" height="7.1" fill="#4cbc4c" fill-opacity="0.86"/><circle cx="271.3" cy="358.7" r="3.4" fill="#2a9a3a" fill-opacity="0.85"/><rect x="269.8" y="355.2" width="7.1" height="7.1" fill="#5ce028" fill-opacity="0.86"/><rect x="273.8" y="354.8" width="7.1" height="7.1" fill="#78b048" fill-opacity="0.86"/><rect x="278.0" y="356.8" width="7.1" height="7.1" fill="#4cbc4c" fill-opacity="0.86"/><rect x="282.5" y="356.6" width="7.1" height="7.1" fill="#2a9a3a" fill-opacity="0.86"/><rect x="286.1" y="356.3" width="7.1" height="7.1" fill="#4cbc4c" fill-opacity="0.86"/><rect x="291.0" y="355.7" width="7.1" height="7.1" fill="#2a9a3a" fill-opacity="0.86"/><rect x="293.8" y="355.1" width="7.1" height="7.1" fill="#4cbc4c" fill-opacity="0.86"/><circle cx="298.4" cy="359.7" r="3.4" fill="#2a9a3a" fill-opacity="0.85"/><rect x="298.4" y="354.9" width="7.1" height="7.1" fill="#5ce028" fill-opacity="0.86"/><rect x="302.5" y="354.9" width="7.1" height="7.1" fill="#5ce028" fill-opacity="0.86"/><rect x="305.2" y="355.6" width="7.1" height="7.1" fill="#78b048" fill-opacity="0.86"/><rect x="309.1" y="355.5" width="7.1" height="7.1" fill="#2a9a3a" fill-opacity="0.86"/><rect x="312.1" y="355.0" width="7.1" height="7.1" fill="#4cbc4c" fill-opacity="0.86"/><circle cx="316.7" cy="357.2" r="3.4" fill="#7cd870" fill-opacity="0.85"/><rect x="316.6" y="353.1" width="7.1" height="7.1" fill="#5ce028" fill-opacity="0.86"/><rect x="319.5" y="354.2" width="7.1" height="7.1" fill="#4cbc4c" fill-opacity="0.86"/><circle cx="284.0" cy="358.1" r="3.4" fill="#7cd870" fill-opacity="0.85"/><circle cx="290.0" cy="357.5" r="3.4" fill="#7cd870" fill-opacity="0.85"/><circle cx="296.0" cy="358.2" r="3.4" fill="#7cd870" fill-opacity="0.85"/><circle cx="302.0" cy="358.3" r="3.4" fill="#7cd870" fill-opacity="0.85"/><circle cx="307.0" cy="356.8" r="3.4" fill="#7cd870" fill-opacity="0.85"/><circle cx="208.5" cy="360.6" r="3.4" fill="#30a878" fill-opacity="0.85"/><rect x="314.4" y="334.5" width="7.1" height="7.1" fill="#ffd966" fill-opacity="0.86"/><rect x="320.8" y="330.6" width="7.1" height="7.1" fill="#ffd966" fill-opacity="0.86"/><rect x="325.3" y="327.4" width="7.1" height="7.1" fill="#f09a28" fill-opacity="0.86"/><rect x="329.5" y="324.1" width="7.1" height="7.1" fill="#ffd966" fill-opacity="0.86"/><rect x="335.8" y="319.9" width="7.1" height="7.1" fill="#ffd966" fill-opacity="0.86"/><rect x="340.4" y="316.5" width="7.1" height="7.1" fill="#ffd966" fill-opacity="0.86"/><rect x="346.1" y="315.6" width="7.1" height="7.1" fill="#ffd966" fill-opacity="0.86"/><rect x="351.1" y="313.0" width="7.1" height="7.1" fill="#ffd966" fill-opacity="0.86"/><rect x="357.1" y="310.1" width="7.1" height="7.1" fill="#ffd966" fill-opacity="0.86"/><rect x="362.7" y="305.5" width="7.1" height="7.1" fill="#f09a28" fill-opacity="0.86"/><rect x="296.4" y="351.5" width="7.1" height="7.1" fill="#5ce028" fill-opacity="0.86"/><rect x="299.3" y="350.0" width="7.1" height="7.1" fill="#4cbc4c" fill-opacity="0.86"/><rect x="303.3" y="346.3" width="7.1" height="7.1" fill="#2a9a3a" fill-opacity="0.86"/><rect x="307.4" y="343.4" width="7.1" height="7.1" fill="#4cbc4c" fill-opacity="0.86"/><rect x="311.3" y="341.1" width="7.1" height="7.1" fill="#4cbc4c" fill-opacity="0.86"/><rect x="315.9" y="340.3" width="7.1" height="7.1" fill="#5ce028" fill-opacity="0.86"/><rect x="320.2" y="336.7" width="7.1" height="7.1" fill="#4cbc4c" fill-opacity="0.86"/><rect x="323.1" y="334.4" width="7.1" height="7.1" fill="#2a9a3a" fill-opacity="0.86"/><rect x="326.6" y="330.9" width="7.1" height="7.1" fill="#2a9a3a" fill-opacity="0.86"/><rect x="329.2" y="330.4" width="7.1" height="7.1" fill="#4cbc4c" fill-opacity="0.86"/><rect x="332.6" y="328.3" width="7.1" height="7.1" fill="#4cbc4c" fill-opacity="0.86"/><rect x="335.4" y="326.6" width="7.1" height="7.1" fill="#4cbc4c" fill-opacity="0.86"/><rect x="338.2" y="327.4" width="7.1" height="7.1" fill="#4cbc4c" fill-opacity="0.86"/><rect x="341.3" y="323.7" width="7.1" height="7.1" fill="#4cbc4c" fill-opacity="0.86"/><rect x="345.6" y="319.9" width="7.1" height="7.1" fill="#78b048" fill-opacity="0.86"/><rect x="349.3" y="317.8" width="7.1" height="7.1" fill="#4cbc4c" fill-opacity="0.86"/><rect x="353.5" y="318.3" width="7.1" height="7.1" fill="#2a9a3a" fill-opacity="0.86"/><rect x="358.0" y="316.0" width="7.1" height="7.1" fill="#4cbc4c" fill-opacity="0.86"/><rect x="361.8" y="312.3" width="7.1" height="7.1" fill="#4cbc4c" fill-opacity="0.86"/><rect x="365.3" y="310.9" width="7.1" height="7.1" fill="#2a9a3a" fill-opacity="0.86"/><rect x="369.2" y="309.3" width="7.1" height="7.1" fill="#4cbc4c" fill-opacity="0.86"/><rect x="302.4" y="345.4" width="7.1" height="7.1" fill="#ff6eb0" fill-opacity="0.86"/><rect x="308.0" y="343.2" width="7.1" height="7.1" fill="#fa3c3c" fill-opacity="0.86"/><rect x="313.3" y="341.4" width="7.1" height="7.1" fill="#ff6eb0" fill-opacity="0.86"/><rect x="319.8" y="338.2" width="7.1" height="7.1" fill="#ff6eb0" fill-opacity="0.86"/><rect x="325.0" y="336.9" width="7.1" height="7.1" fill="#fa3c3c" fill-opacity="0.86"/><rect x="330.7" y="335.4" width="7.1" height="7.1" fill="#ff6eb0" fill-opacity="0.86"/><rect x="336.4" y="331.8" width="7.1" height="7.1" fill="#ff6eb0" fill-opacity="0.86"/><rect x="341.4" y="329.4" width="7.1" height="7.1" fill="#ff6eb0" fill-opacity="0.86"/><rect x="345.5" y="329.3" width="7.1" height="7.1" fill="#fa3c3c" fill-opacity="0.86"/><rect x="349.9" y="326.6" width="7.1" height="7.1" fill="#ff6eb0" fill-opacity="0.86"/><rect x="355.4" y="321.6" width="7.1" height="7.1" fill="#ff6eb0" fill-opacity="0.86"/><rect x="359.8" y="320.1" width="7.1" height="7.1" fill="#ff6eb0" fill-opacity="0.86"/><rect x="366.2" y="318.9" width="7.1" height="7.1" fill="#ff6eb0" fill-opacity="0.86"/><rect x="308.4" y="344.5" width="7.1" height="7.1" fill="#ff6eb0" fill-opacity="0.86"/><rect x="314.1" y="342.5" width="7.1" height="7.1" fill="#ff6eb0" fill-opacity="0.86"/><rect x="318.9" y="341.0" width="7.1" height="7.1" fill="#ff6eb0" fill-opacity="0.86"/><rect x="324.3" y="340.3" width="7.1" height="7.1" fill="#ff6eb0" fill-opacity="0.86"/><rect x="330.3" y="338.6" width="7.1" height="7.1" fill="#2a9a3a" fill-opacity="0.86"/><rect x="336.7" y="335.9" width="7.1" height="7.1" fill="#ff6eb0" fill-opacity="0.86"/><rect x="343.0" y="333.0" width="7.1" height="7.1" fill="#2a9a3a" fill-opacity="0.86"/><rect x="349.4" y="330.7" width="7.1" height="7.1" fill="#ff6eb0" fill-opacity="0.86"/><rect x="355.9" y="329.4" width="7.1" height="7.1" fill="#fa3c3c" fill-opacity="0.86"/><rect x="360.6" y="327.2" width="7.1" height="7.1" fill="#ff6eb0" fill-opacity="0.86"/><rect x="366.1" y="324.4" width="7.1" height="7.1" fill="#ff6eb0" fill-opacity="0.86"/><rect x="296.4" y="346.9" width="7.1" height="7.1" fill="#fa3c3c" fill-opacity="0.86"/><rect x="300.8" y="346.1" width="7.1" height="7.1" fill="#fa3c3c" fill-opacity="0.86"/><rect x="305.5" y="344.2" width="7.1" height="7.1" fill="#fa3c3c" fill-opacity="0.86"/><rect x="310.5" y="342.3" width="7.1" height="7.1" fill="#fa3c3c" fill-opacity="0.86"/><rect x="314.4" y="342.1" width="7.1" height="7.1" fill="#fa3c3c" fill-opacity="0.86"/><rect x="317.9" y="341.5" width="7.1" height="7.1" fill="#fa3c3c" fill-opacity="0.86"/><rect x="322.5" y="340.3" width="7.1" height="7.1" fill="#fa3c3c" fill-opacity="0.86"/><rect x="326.6" y="340.2" width="7.1" height="7.1" fill="#fa3c3c" fill-opacity="0.86"/><rect x="330.0" y="338.7" width="7.1" height="7.1" fill="#fa3c3c" fill-opacity="0.86"/><rect x="334.8" y="338.1" width="7.1" height="7.1" fill="#fa3c3c" fill-opacity="0.86"/><rect x="339.2" y="337.5" width="7.1" height="7.1" fill="#fa3c3c" fill-opacity="0.86"/><rect x="343.2" y="337.2" width="7.1" height="7.1" fill="#fa3c3c" fill-opacity="0.86"/><rect x="347.5" y="337.0" width="7.1" height="7.1" fill="#fa3c3c" fill-opacity="0.86"/><rect x="352.9" y="336.3" width="7.1" height="7.1" fill="#fa3c3c" fill-opacity="0.86"/><rect x="356.4" y="335.6" width="7.1" height="7.1" fill="#fa3c3c" fill-opacity="0.86"/><rect x="361.7" y="334.0" width="7.1" height="7.1" fill="#fa3c3c" fill-opacity="0.86"/><rect x="366.9" y="330.9" width="7.1" height="7.1" fill="#fa3c3c" fill-opacity="0.86"/><rect x="361.8" y="310.6" width="7.1" height="7.1" fill="#f09a28" fill-opacity="0.86"/><rect x="364.7" y="303.1" width="7.1" height="7.1" fill="#5ce028" fill-opacity="0.86"/><rect x="366.8" y="303.5" width="7.1" height="7.1" fill="#5ce028" fill-opacity="0.86"/><rect x="371.3" y="299.7" width="7.1" height="7.1" fill="#f09a28" fill-opacity="0.86"/><rect x="374.5" y="299.0" width="7.1" height="7.1" fill="#5ce028" fill-opacity="0.86"/><rect x="375.5" y="302.3" width="7.1" height="7.1" fill="#4cbc4c" fill-opacity="0.86"/><rect x="378.1" y="296.5" width="7.1" height="7.1" fill="#4cbc4c" fill-opacity="0.86"/><rect x="379.7" y="298.7" width="7.1" height="7.1" fill="#f09a28" fill-opacity="0.86"/><rect x="383.5" y="294.6" width="7.1" height="7.1" fill="#4cbc4c" fill-opacity="0.86"/><rect x="386.9" y="298.1" width="7.1" height="7.1" fill="#78b048" fill-opacity="0.86"/><rect x="390.3" y="296.0" width="7.1" height="7.1" fill="#4cbc4c" fill-opacity="0.86"/><rect x="392.8" y="290.1" width="7.1" height="7.1" fill="#78b048" fill-opacity="0.86"/><rect x="395.5" y="292.9" width="7.1" height="7.1" fill="#ffd966" fill-opacity="0.86"/><rect x="398.5" y="290.2" width="7.1" height="7.1" fill="#2a9a3a" fill-opacity="0.86"/><rect x="400.1" y="286.3" width="7.1" height="7.1" fill="#f09a28" fill-opacity="0.86"/><rect x="403.1" y="284.9" width="7.1" height="7.1" fill="#4cbc4c" fill-opacity="0.86"/><rect x="404.9" y="284.1" width="7.1" height="7.1" fill="#4cbc4c" fill-opacity="0.86"/><rect x="408.8" y="278.4" width="7.1" height="7.1" fill="#f09a28" fill-opacity="0.86"/><rect x="410.3" y="276.3" width="7.1" height="7.1" fill="#78b048" fill-opacity="0.86"/><rect x="412.2" y="267.9" width="7.1" height="7.1" fill="#5ce028" fill-opacity="0.86"/><rect x="415.2" y="268.1" width="7.1" height="7.1" fill="#2a9a3a" fill-opacity="0.86"/><rect x="416.9" y="270.5" width="7.1" height="7.1" fill="#78b048" fill-opacity="0.86"/><rect x="420.5" y="264.8" width="7.1" height="7.1" fill="#5ce028" fill-opacity="0.86"/><rect x="423.5" y="263.5" width="7.1" height="7.1" fill="#5ce028" fill-opacity="0.86"/><rect x="425.7" y="260.7" width="7.1" height="7.1" fill="#f09a28" fill-opacity="0.86"/><rect x="428.6" y="256.2" width="7.1" height="7.1" fill="#f09a28" fill-opacity="0.86"/><path d="M368.9 307.7L373.3 315.8H364.5Z" fill="#4cbc4c" fill-opacity="0.85"/><path d="M374.4 303.4L378.8 311.5H370.0Z" fill="#fa3c3c" fill-opacity="0.85"/><path d="M384.4 293.4L388.8 301.5H380.0Z" fill="#6aa6e0" fill-opacity="0.85"/><path d="M394.7 292.1L399.1 300.2H390.3Z" fill="#4cbc4c" fill-opacity="0.85"/><path d="M400.0 292.5L404.4 300.6H395.6Z" fill="#4cbc4c" fill-opacity="0.85"/><path d="M410.9 280.6L415.3 288.7H406.5Z" fill="#fa3c3c" fill-opacity="0.85"/><path d="M417.4 266.4L421.8 274.5H413.0Z" fill="#5ce028" fill-opacity="0.85"/><path d="M424.6 266.0L429.0 274.1H420.2Z" fill="#78b048" fill-opacity="0.85"/><path d="M433.8 254.1L438.2 262.2H429.4Z" fill="#fa3c3c" fill-opacity="0.85"/><circle cx="302.0" cy="357.5" r="3.4" fill="#7cd870" fill-opacity="0.85"/><circle cx="305.8" cy="353.0" r="3.4" fill="#fa3c3c" fill-opacity="0.85"/><circle cx="296.0" cy="358.0" r="3.4" fill="#7cd870" fill-opacity="0.85"/><circle cx="290.0" cy="357.0" r="3.4" fill="#2a9a3a" fill-opacity="0.85"/><rect x="423.3" y="275.6" width="7.1" height="7.1" fill="#4cbc4c" fill-opacity="0.86"/><rect x="415.3" y="280.6" width="7.1" height="7.1" fill="#4cbc4c" fill-opacity="0.86"/><rect x="412.4" y="273.3" width="7.1" height="7.1" fill="#4cbc4c" fill-opacity="0.86"/><rect x="422.6" y="264.6" width="7.1" height="7.1" fill="#4cbc4c" fill-opacity="0.86"/><rect x="432.1" y="260.9" width="7.1" height="7.1" fill="#5ce028" fill-opacity="0.86"/><rect x="399.3" y="276.2" width="7.1" height="7.1" fill="#ffd966" fill-opacity="0.86"/><rect x="412.4" y="263.9" width="7.1" height="7.1" fill="#f09a28" fill-opacity="0.86"/><rect x="423.4" y="260.2" width="7.1" height="7.1" fill="#f09a28" fill-opacity="0.86"/><path d="M411.0 273.1L415.4 281.2H406.6Z" fill="#5ce028" fill-opacity="0.85"/><rect x="404.4" y="286.4" width="7.1" height="7.1" fill="#2a9a3a" fill-opacity="0.86"/><rect x="399.4" y="288.6" width="7.1" height="7.1" fill="#4cbc4c" fill-opacity="0.86"/><rect x="391.4" y="295.1" width="7.1" height="7.1" fill="#2a9a3a" fill-opacity="0.86"/><path d="M392.0 287.0L396.4 295.1H387.6Z" fill="#fa3c3c" fill-opacity="0.85"/><path d="M396.4 288.5L400.8 296.6H392.0Z" fill="#fa3c3c" fill-opacity="0.85"/><rect x="375.4" y="298.8" width="7.1" height="7.1" fill="#f09a28" fill-opacity="0.86"/><rect x="380.4" y="298.1" width="7.1" height="7.1" fill="#f09a28" fill-opacity="0.86"/><rect x="362.2" y="304.6" width="7.1" height="7.1" fill="#f09a28" fill-opacity="0.86"/><rect x="367.4" y="303.9" width="7.1" height="7.1" fill="#f09a28" fill-opacity="0.86"/><rect x="370.9" y="306.8" width="7.1" height="7.1" fill="#4cbc4c" fill-opacity="0.86"/><rect x="379.8" y="308.9" width="7.1" height="7.1" fill="#4cbc4c" fill-opacity="0.86"/><rect x="363.8" y="310.4" width="7.1" height="7.1" fill="#4cbc4c" fill-opacity="0.86"/><circle cx="389.8" cy="307.5" r="3.4" fill="#7cd870" fill-opacity="0.85"/><rect x="424.8" y="253.8" width="7.1" height="7.1" fill="#6aa6e0" fill-opacity="0.86"/><rect x="430.4" y="252.2" width="7.1" height="7.1" fill="#6aa6e0" fill-opacity="0.86"/><path d="M319.6 352.7L324.0 360.8H315.2Z" fill="#fa3c3c" fill-opacity="0.85"/><path d="M339.3 346.5L343.7 354.6H334.9Z" fill="#fa3c3c" fill-opacity="0.85"/><path d="M372.7 324.5L377.1 332.6H368.3Z" fill="#fa3c3c" fill-opacity="0.85"/></g>
<path d="M89.6 102V406.1H526.45V56.1H143.5" fill="none" stroke="#000" stroke-width="3" stroke-linejoin="miter"/><path d="M309.3 11.9V56" stroke="#000" stroke-width="4" stroke-dasharray="4.2 5.05"/><path d="M309.3 294.1V382" stroke="#000" stroke-width="4" stroke-dasharray="4.2 5.05"/>
<g font-weight="bold" font-size="16.6" text-anchor="middle"><text x="211.9" y="29">Activated</text><text x="214.4" y="48">interlayer slip</text><text x="415.4" y="27.7">Activated</text><text x="417.5" y="46.9">flow</text></g><g font-weight="bold" font-size="16" text-anchor="middle"><text x="64" y="119.2">1.8</text><text x="64" y="265.6">1.3</text><text x="64" y="411.2">0.8</text><text x="90" y="430.4">0.01</text><text x="198.7" y="430.4">0.1</text><text x="308" y="430.4">1</text><text x="419.5" y="430.4">10</text><text x="527" y="430.4">100</text></g><text transform="translate(295.4 457.6) scale(0.93 1.03)" class="se" font-weight="bold" font-style="italic" font-size="17.5" stroke="#000" stroke-width="0.3">V<tspan dx="2" dy="2.2" font-size="22">/</tspan><tspan dx="2.2" dy="-2.2">V</tspan><tspan font-size="11" dy="-6" dx="1.4">*</tspan></text><text transform="translate(52.4 243) rotate(-90) scale(0.96 1.03)" class="se" font-weight="bold" font-style="italic" font-size="17.5" stroke="#000" stroke-width="0.3">F<tspan dx="1" dy="2.2" font-size="22">/</tspan><tspan dx="1.8" dy="-2.2">F</tspan><tspan font-size="11" dy="-6" dx="1">*</tspan></text><g font-weight="bold" font-size="16" letter-spacing="0.25"><text x="177.3" y="498.4">IL-0%</text><text x="284.6" y="498.4">IL-44%</text><text x="390.2" y="498.4">PEG-IL</text></g><path d="M165.3 486.8L173 499.8H157.6Z" fill="#fff" stroke="#000" stroke-width="1.4"/><rect x="266.8" y="487.4" width="12.2" height="12.2" fill="#fff" stroke="#000" stroke-width="1.4"/><circle cx="378.6" cy="491.6" r="6" fill="#fff" stroke="#000" stroke-width="1.4"/><path d="M454.4 281.4L442.7 295.3L438.6 291.9L435.6 308.3L451.3 302.5L447.2 299.2L459.0 285.2Z" fill="#f00"/><path d="M454.4 307.1L442.6 321.3L438.5 318.0L435.6 334.4L451.2 328.5L447.2 325.2L459.0 310.9Z" fill="#f00"/>
</svg></body></html>
